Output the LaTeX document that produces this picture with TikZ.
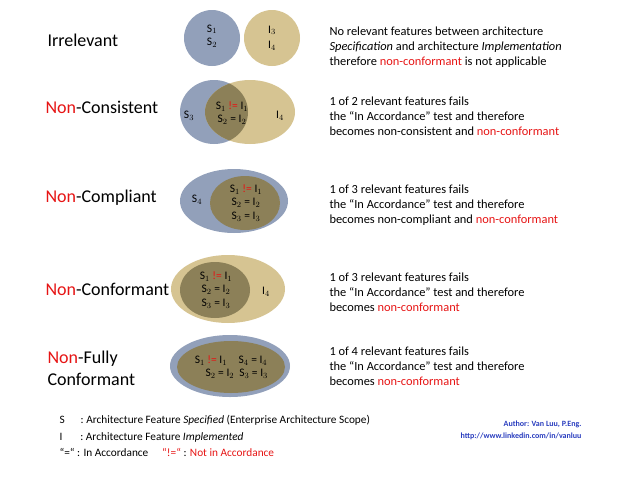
\documentclass[tikz,border=0pt]{standalone}
\usepackage{fontspec}
\setmainfont{Carlito}
\begin{document}
\begin{tikzpicture}[x=1pt,y=-1pt,
  lbl/.style={anchor=west,font=\fontsize{18}{20}\selectfont},
  desc/.style={anchor=north west,align=left,font=\fontsize{12.4}{15}\selectfont},
  inner/.style={font=\fontsize{11.5}{13.5}\selectfont,align=center},
  leg/.style={anchor=west,font=\fontsize{11.3}{13}\selectfont}]
\definecolor{sb}{RGB}{146,160,186}
\definecolor{it}{RGB}{214,196,146}
\definecolor{ov}{RGB}{140,128,88}
\definecolor{rd}{RGB}{230,20,20}
\definecolor{au}{RGB}{40,60,190}
\useasboundingbox (0,0) rectangle (640,480);
\newcommand{\myne}{\textcolor{rd}{!=}}
% row 1
\fill[sb] (212,38) circle (28);
\fill[it] (272,38) circle (28);
\node[inner] (r1a) at (212,36) {S$_1$\\S$_2$};
\node[inner] (r1b) at (272,38) {I$_3$\\[2pt]I$_4$};
\node[lbl] (l1) at (44,40) {Irrelevant};
\node[desc] (d1) at (326,23) {No relevant features between architecture\\\textit{Specification} and architecture \textit{Implementation}\\therefore \textcolor{rd}{non-conformant} is not applicable};
% row 2
\fill[sb] (214,112) ellipse (34 and 32);
\fill[it] (250,112) ellipse (45 and 32);
\begin{scope}\clip (214,112) ellipse (34 and 32);\fill[ov] (250,112) ellipse (45 and 32);\end{scope}
\node[inner] (r2) at (232,113) {S$_1$ \myne{} I$_1$\\S$_2$ = I$_2$};
\node[inner] (r2s) at (189,116) {S$_3$};
\node[inner] (r2i) at (280,116) {I$_4$};
\node[lbl] (l2) at (42,107) {\textcolor{rd}{Non}-Consistent};
\node[desc] (d2) at (326,93) {1 of 2 relevant features fails\\the ``In Accordance'' test and therefore\\becomes non-consistent and \textcolor{rd}{non-conformant}};
% row 3
\fill[sb] (234,201) ellipse (54 and 32);
\fill[ov] (245,203) ellipse (35 and 27);
\node[inner] (r3) at (246,203) {S$_1$ \myne{} I$_1$\\S$_2$ = I$_2$\\S$_3$ = I$_3$};
\node[inner] (r3s) at (197,200) {S$_4$};
\node[lbl] (l3) at (42,198) {\textcolor{rd}{Non}-Compliant};
\node[desc] (d3) at (326,181) {1 of 3 relevant features fails\\the ``In Accordance'' test and therefore\\becomes non-compliant and \textcolor{rd}{non-conformant}};
% row 4
\fill[it] (228,289) ellipse (57 and 34);
\fill[ov] (215,290) ellipse (35 and 28);
\node[inner] (r4) at (216,290) {S$_1$ \myne{} I$_1$\\S$_2$ = I$_2$\\S$_3$ = I$_3$};
\node[inner] (r4i) at (266,292) {I$_4$};
\node[lbl] (l4) at (42,289) {\textcolor{rd}{Non}-Conformant};
\node[desc] (d4) at (326,269) {1 of 3 relevant features fails\\the ``In Accordance'' test and therefore\\becomes \textcolor{rd}{non-conformant}};
% row 5
\fill[sb] (230,366) ellipse (60 and 31);
\fill[ov] (231,367) ellipse (54 and 26);
\node[inner] (r5) at (231,367) {S$_1$ \myne{} I$_1$\quad S$_4$ = I$_4$\\\quad S$_2$ = I$_2$\ \ S$_3$ = I$_3$};
\node[lbl,align=left,font=\fontsize{18}{22}\selectfont] (l5) at (44,368) {\textcolor{rd}{Non}-Fully\\Conformant};
\node[desc] (d5) at (326,343) {1 of 4 relevant features fails\\the ``In Accordance'' test and therefore\\becomes \textcolor{rd}{non-conformant}};
% legend
\node[leg] (g1) at (56,420) {S\hspace{16pt}: Architecture Feature \textit{Specified} (Enterprise Architecture Scope)};
\node[leg] (g2) at (56,437) {I\hspace{18pt}: Architecture Feature \textit{Implemented}};
\node[leg] (g3) at (56,452) {``=`` : In Accordance \quad \textcolor{rd}{``!=``} : \textcolor{rd}{Not in Accordance}};
\node[anchor=east,font=\fontsize{8}{10}\selectfont\bfseries,text=au,align=right] (au) at (585,430) {Author: Van Luu, P.Eng.\\[2pt]http://www.linkedin.com/in/vanluu};
\end{tikzpicture}
\end{document}
